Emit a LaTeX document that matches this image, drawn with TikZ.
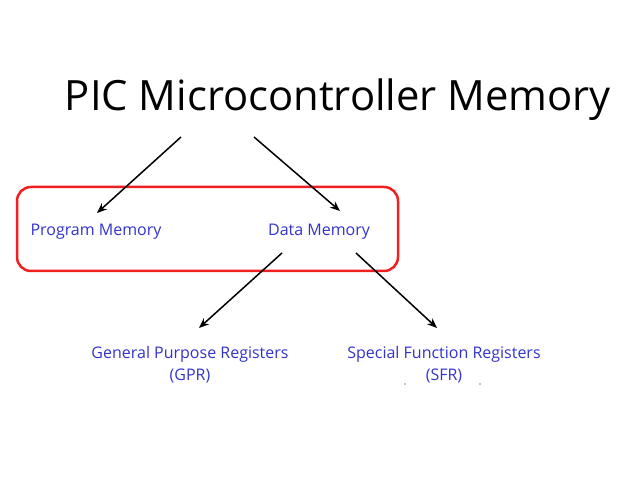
\documentclass[tikz,border=0pt]{standalone}
\usepackage{fontspec}
\setmainfont{Open Sans}
\usetikzlibrary{arrows.meta}
\definecolor{tblue}{HTML}{3333CC}
\definecolor{tred}{HTML}{F02020}
\begin{document}
\begin{tikzpicture}[x=1pt,y=-1pt,
  lbl/.style={text=tblue,font=\fontsize{16}{22}\selectfont,align=center},
  arr/.style={-{Stealth[length=10pt,width=8pt]},line width=1.5pt}]
\useasboundingbox (0,0) rectangle (638,478);
\node (title) at (338,100) {\resizebox{546pt}{!}{\fontsize{40}{48}\selectfont PIC Microcontroller Memory}};
\draw[tred,line width=2.5pt,rounded corners=14pt] (17,187) rectangle (398,271);
\node[lbl] (pm) at (96,232) {Program Memory};
\node[lbl] (dm) at (319,232) {Data Memory};
\node[lbl] (gpr) at (190,365) {General Purpose Registers\\(GPR)};
\node[lbl] (sfr) at (444,365) {Special Function Registers\\(SFR)};
\coordinate (t1) at (181,137); \coordinate (t2) at (254,137);
\coordinate (p1) at (97,213); \coordinate (d1) at (340,211);
\coordinate (d2) at (282,253); \coordinate (d3) at (356,253);
\coordinate (g1) at (199,328); \coordinate (s1) at (437,328);
\draw[arr] (t1) -- (p1);
\draw[arr] (t2) -- (d1);
\draw[arr] (d2) -- (g1);
\draw[arr] (d3) -- (s1);
\fill (405,384) circle (0.7pt) (480,384) circle (0.7pt);
\end{tikzpicture}
\end{document}
